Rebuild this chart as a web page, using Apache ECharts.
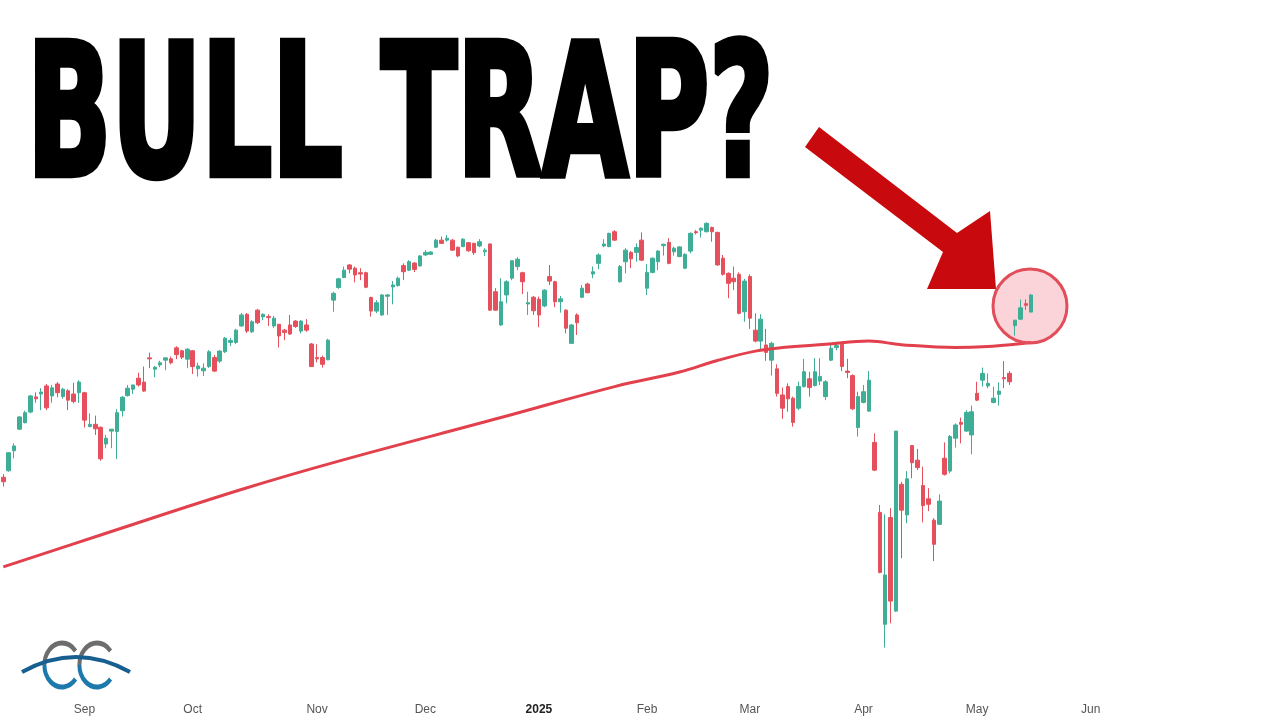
<!DOCTYPE html>
<html>
<head>
<meta charset="utf-8">
<title>Bull trap?</title>
<script src="https://cdn.jsdelivr.net/npm/echarts@6/dist/echarts.min.js"></script>
<style>
  html, body { margin: 0; padding: 0; background: #fff; }
  #chart { width: 1280px; height: 720px; }
</style>
</head>
<body>
<div id="chart"></div>
<script>
  // daily candles 2024-08-12 .. 2025-05-15, one value per trading day
  var opens = [
    5362,5382,5444,5511,5531,5564,5611,5620,5645,5614,
    5651,5612,5630,5620,5624,5624,5519,5526,5517,5465,
    5505,5504,5568,5615,5635,5669,5657,5732,5697,5710,
    5725,5729,5763,5754,5728,5754,5698,5692,5705,5733,
    5722,5751,5780,5780,5831,5867,5813,5880,5859,5860,
    5831,5836,5818,5834,5846,5815,5834,5775,5733,5733,
    5726,5911,5950,5981,6020,6010,5996,5996,5919,5877,
    5865,5923,5952,5956,6018,6004,6026,6017,6051,6053,
    6075,6097,6097,6097,6075,6077,6089,6087,6079,6061,
    6085,5937,5834,5927,5979,6015,5996,5899,5920,5914,
    5893,5984,5968,5906,5880,5777,5865,5920,5961,5992,
    6025,6079,6077,6123,5968,6030,6059,6059,6097,5948,
    5997,6030,6080,6090,6061,6046,6010,6063,6123,6128,
    6123,6136,6121,6041,5994,5979,5991,5875,5984,5818,
    5784,5772,5725,5698,5617,5643,5607,5576,5643,5667,
    5646,5660,5612,5725,5764,5774,5691,5677,5516,5594,
    5567,5470,5253,4906,5237,4947,5340,5245,5460,5415,
    5336,5295,5229,5216,5421,5381,5483,5532,5505,5493,
    5622,5663,5645,5594,5619,5671,5684,5832,5852,5900,
    5874
  ];
  var highs = [
    5372,5440,5467,5551,5568,5617,5625,5638,5651,5648,
    5657,5639,5635,5655,5663,5627,5560,5553,5519,5493,
    5511,5573,5614,5648,5648,5686,5705,5748,5707,5723,
    5733,5736,5768,5757,5762,5756,5717,5715,5756,5741,
    5756,5797,5794,5822,5871,5871,5849,5884,5870,5867,
    5862,5837,5822,5865,5849,5849,5852,5778,5774,5739,
    5791,5937,5980,6015,6023,6015,6010,5999,5922,5911,
    5930,5930,5970,5984,6025,6035,6029,6051,6066,6063,
    6101,6108,6113,6100,6077,6103,6091,6089,6100,6072,
    6087,5948,5979,5973,6035,6044,5999,5937,5924,5922,
    5945,6020,5971,5924,5883,5837,5870,5958,5965,6015,
    6056,6100,6120,6128,6020,6072,6063,6087,6121,6022,
    6043,6066,6086,6103,6077,6078,6056,6121,6128,6136,
    6152,6139,6123,6051,5997,6015,5997,5977,5991,5870,
    5867,5822,5782,5712,5640,5653,5612,5658,5729,5689,
    5731,5731,5663,5772,5782,5780,5729,5681,5627,5648,
    5691,5498,5276,5247,5266,5505,5348,5381,5462,5450,
    5395,5328,5235,5309,5470,5493,5529,5547,5570,5584,
    5658,5702,5684,5643,5656,5722,5691,5849,5913,5913,
    5929
  ];
  var lows = [
    5333,5379,5421,5508,5529,5560,5593,5570,5570,5593,
    5610,5605,5570,5591,5593,5516,5517,5493,5413,5452,
    5452,5418,5550,5612,5620,5643,5627,5700,5672,5703,
    5694,5712,5728,5728,5700,5682,5674,5676,5701,5688,
    5716,5747,5769,5775,5828,5809,5809,5837,5849,5831,
    5825,5764,5787,5803,5825,5808,5813,5704,5718,5702,
    5725,5875,5946,5979,5994,5966,5973,5948,5860,5871,
    5862,5865,5898,5953,5973,6001,5998,6015,6048,6051,
    6073,6085,6092,6064,6044,6075,6061,6051,6075,6048,
    5878,5878,5831,5901,5973,6004,5930,5865,5865,5827,
    5889,5958,5889,5872,5808,5775,5803,5917,5932,5979,
    6007,6075,6075,6095,5965,5994,6010,6030,6032,5927,
    5994,6004,6049,6022,6049,6044,6007,6056,6115,6105,
    6121,6092,6018,5987,5917,5942,5867,5844,5822,5780,
    5756,5723,5677,5612,5543,5565,5519,5570,5640,5612,
    5643,5648,5601,5722,5756,5691,5669,5570,5488,5591,
    5565,5381,5064,4834,4909,4945,5111,5219,5359,5384,
    5222,5257,5102,5214,5367,5374,5454,5467,5503,5433,
    5598,5643,5638,5591,5584,5638,5648,5801,5849,5881,
    5873
  ];
  var closes = [
    5348,5438,5459,5549,5562,5614,5605,5626,5577,5639,
    5624,5635,5601,5597,5657,5539,5526,5512,5419,5483,
    5511,5562,5610,5638,5648,5648,5629,5729,5703,5717,
    5732,5717,5742,5734,5759,5705,5707,5700,5751,5691,
    5753,5793,5786,5818,5865,5815,5844,5841,5867,5857,
    5855,5800,5811,5806,5829,5846,5818,5705,5729,5712,
    5787,5932,5977,6004,6007,5989,5992,5951,5877,5903,
    5927,5927,5958,5979,5999,6030,6006,6048,6059,6060,
    6097,6087,6103,6066,6048,6100,6064,6058,6092,6066,
    5880,5880,5906,5968,6033,6038,5968,5903,5878,5865,
    5942,5970,5906,5915,5824,5834,5841,5948,5934,5999,
    6051,6085,6118,6097,6015,6066,6039,6074,6035,5997,
    6041,6063,6084,6025,6072,6076,6053,6118,6120,6134,
    6149,6123,6020,5991,5963,5968,5870,5970,5855,5784,
    5852,5749,5777,5622,5576,5605,5532,5643,5689,5640,
    5689,5674,5658,5762,5770,5705,5687,5574,5612,5627,
    5663,5384,5067,5059,4978,5505,5260,5357,5407,5392,
    5274,5278,5154,5288,5371,5488,5524,5526,5563,5565,
    5601,5684,5653,5607,5629,5667,5658,5849,5887,5895,
    5927
  ];

  // 200 day moving average, read at a few bars
  var maIdx = [0, 18, 44, 62, 92, 113, 125, 132, 139, 144, 152, 160, 166, 176, 182, 187, 190];
  var maVal = [5084, 5183, 5324, 5412, 5547, 5643, 5688, 5724, 5753, 5764, 5774, 5784, 5773, 5764, 5767, 5774, 5780];

  var firstDay = '2024-08-12';
  var lastLabel = '2025-06';  // no month labels after this
  var slots = 236;   // bars incl. empty space on the right
  var holidays = ['2024-09-02', '2024-11-28', '2024-12-25', '2025-01-01', '2025-01-09',
    '2025-01-20', '2025-02-17', '2025-04-18', '2025-05-26', '2025-06-19', '2025-07-04'];
  var monthNames = ['Jan', 'Feb', 'Mar', 'Apr', 'May', 'Jun', 'Jul', 'Aug', 'Sep', 'Oct', 'Nov', 'Dec'];

  var upColor = '#3fae97';
  var downColor = '#e5505c';

  function tradingDays(start, count, skip) {
    var out = [];
    var d = new Date(start + 'T00:00:00Z');
    while (out.length < count) {
      var wd = d.getUTCDay();
      var s = d.toISOString().slice(0, 10);
      if (wd !== 0 && wd !== 6 && skip.indexOf(s) < 0) out.push(s);
      d.setUTCDate(d.getUTCDate() + 1);
    }
    return out;
  }

  var days = tradingDays(firstDay, slots, holidays);

  function isMonthStart(i) {
    if (i === 0 || days[i].slice(0, 7) > lastLabel) return false;
    return days[i].slice(5, 7) !== days[i - 1].slice(5, 7);
  }

  var candles = opens.map(function (o, i) {
    return [o, closes[i], lows[i], highs[i]];
  });
  var maLine = maIdx.map(function (idx, i) {
    return [idx, maVal[i]];
  });

  // logo: two open "C" rings, grey on top and blue below, with a swoosh
  function logoC(cx) {
    return [
      {
        type: 'arc', z: 100, originX: cx, originY: 665, scaleX: 0.8,
        shape: { cx: cx, cy: 665, r: 22, startAngle: Math.PI, endAngle: Math.PI * 1.78, clockwise: true },
        style: { stroke: '#6d6d6d', lineWidth: 5, fill: null }
      },
      {
        type: 'arc', z: 100, originX: cx, originY: 665, scaleX: 0.8,
        shape: { cx: cx, cy: 665, r: 22, startAngle: Math.PI * 0.22, endAngle: Math.PI, clockwise: true },
        style: { stroke: '#1d78ab', lineWidth: 5, fill: null }
      }
    ];
  }

  var chart = echarts.init(document.getElementById('chart'));

  var option = {
    animation: false,
    backgroundColor: '#ffffff',
    grid: { left: 0.6, top: 0, width: 1276.8, height: 690 },
    xAxis: {
      type: 'category',
      data: days,
      boundaryGap: true,
      axisLine: { show: false },
      axisTick: { show: false },
      splitLine: { show: false },
      axisLabel: {
        interval: function (i) { return isMonthStart(i); },
        margin: 14,
        color: '#555',
        fontFamily: 'Liberation Sans',
        fontSize: 12,
        formatter: function (v) {
          var m = parseInt(v.slice(5, 7), 10);
          if (m === 1) return '{y|' + v.slice(0, 4) + '}';
          return monthNames[m - 1];
        },
        rich: {
          y: { fontWeight: 'bold', color: '#222', fontFamily: 'Liberation Sans', fontSize: 12 }
        }
      }
    },
    yAxis: {
      type: 'value',
      min: 4702.4,
      max: 6841.4,
      show: false,
      splitLine: { show: false }
    },
    series: [
      {
        name: 'Price',
        type: 'candlestick',
        data: candles,
        barWidth: 4,
        z: 2,
        itemStyle: {
          color: upColor,
          color0: downColor,
          borderColor: upColor,
          borderColor0: downColor,
          borderWidth: 1
        }
      },
      {
        name: 'MA 200',
        type: 'line',
        data: maLine,
        smooth: 0.4,
        showSymbol: false,
        z: 3,
        lineStyle: { color: '#e2404c', width: 3 }
      }
    ],
    graphic: [
      {
        type: 'text',
        x: 27,
        y: 127,
        scaleX: 0.616,
        scaleY: 0.923,
        z: 100,
        style: {
          text: 'BULL TRAP?',
          font: 'bold 200px "DejaVu Sans Condensed", "Liberation Sans Narrow", "DejaVu Sans"',
          fill: '#000',
          stroke: '#000',
          lineWidth: 7,
          textVerticalAlign: 'middle'
        }
      },
      {
        // red arrow
        type: 'polygon',
        z: 100,
        shape: {
          points: [[819, 127], [957, 233], [990, 211], [996, 289], [927, 289], [943, 252], [805, 147]]
        },
        style: { fill: '#c8090d' }
      },
      {
        type: 'circle',
        z: 1,
        shape: { cx: 1030, cy: 306, r: 37 },
        style: { fill: 'rgba(245, 160, 170, 0.45)' }
      },
      {
        type: 'circle',
        z: 10,
        shape: { cx: 1030, cy: 306, r: 37 },
        style: { fill: null, stroke: '#e24d5a', lineWidth: 3 }
      }
    ].concat(logoC(62), logoC(97), [
      {
        type: 'bezierCurve',
        z: 101,
        shape: { x1: 22, y1: 672, cpx1: 76, cpy1: 642, x2: 130, y2: 672 },
        style: { stroke: '#175f8f', lineWidth: 4, fill: null }
      }
    ])
  };

  chart.setOption(option);
</script>
</body>
</html>
